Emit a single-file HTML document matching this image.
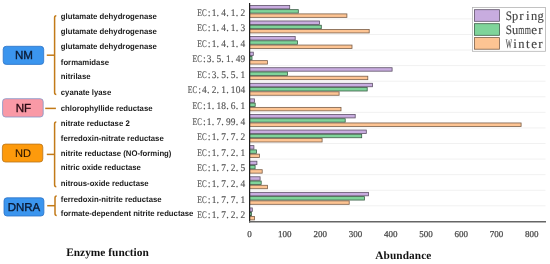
<!DOCTYPE html>
<html><head><meta charset="utf-8"><style>
html,body{margin:0;padding:0;background:#fff;}
body{width:550px;height:264px;overflow:hidden;position:relative;font-family:"Liberation Sans",sans-serif;}
svg{position:absolute;left:0;top:0;will-change:transform;}
text{text-rendering:geometricPrecision;}
</style></head><body>
<svg width="550" height="264" viewBox="0 0 550 264">
<line x1="250" y1="18.88" x2="545.5" y2="18.88" stroke="#f1f1f1" stroke-width="1"/>
<line x1="250" y1="34.46" x2="545.5" y2="34.46" stroke="#f1f1f1" stroke-width="1"/>
<line x1="250" y1="50.04" x2="545.5" y2="50.04" stroke="#f1f1f1" stroke-width="1"/>
<line x1="250" y1="65.62" x2="545.5" y2="65.62" stroke="#f1f1f1" stroke-width="1"/>
<line x1="250" y1="81.20" x2="545.5" y2="81.20" stroke="#f1f1f1" stroke-width="1"/>
<line x1="250" y1="96.78" x2="545.5" y2="96.78" stroke="#f1f1f1" stroke-width="1"/>
<line x1="250" y1="112.36" x2="545.5" y2="112.36" stroke="#f1f1f1" stroke-width="1"/>
<line x1="250" y1="127.94" x2="545.5" y2="127.94" stroke="#f1f1f1" stroke-width="1"/>
<line x1="250" y1="143.52" x2="545.5" y2="143.52" stroke="#f1f1f1" stroke-width="1"/>
<line x1="250" y1="159.10" x2="545.5" y2="159.10" stroke="#f1f1f1" stroke-width="1"/>
<line x1="250" y1="174.68" x2="545.5" y2="174.68" stroke="#f1f1f1" stroke-width="1"/>
<line x1="250" y1="190.26" x2="545.5" y2="190.26" stroke="#f1f1f1" stroke-width="1"/>
<line x1="250" y1="205.84" x2="545.5" y2="205.84" stroke="#f1f1f1" stroke-width="1"/>
<rect x="249.70" y="5.40" width="40.00" height="3.45" fill="#c8acdf" stroke="#5e5268" stroke-width="0.8"/>
<rect x="249.70" y="9.65" width="48.60" height="3.45" fill="#7fd49a" stroke="#3d5e48" stroke-width="0.8"/>
<rect x="249.70" y="13.90" width="97.20" height="3.45" fill="#fdc493" stroke="#7a5e48" stroke-width="0.8"/>
<rect x="249.70" y="20.98" width="69.80" height="3.45" fill="#c8acdf" stroke="#5e5268" stroke-width="0.8"/>
<rect x="249.70" y="25.23" width="71.60" height="3.45" fill="#7fd49a" stroke="#3d5e48" stroke-width="0.8"/>
<rect x="249.70" y="29.48" width="119.50" height="3.45" fill="#fdc493" stroke="#7a5e48" stroke-width="0.8"/>
<rect x="249.70" y="36.56" width="45.50" height="3.45" fill="#c8acdf" stroke="#5e5268" stroke-width="0.8"/>
<rect x="249.70" y="40.81" width="47.80" height="3.45" fill="#7fd49a" stroke="#3d5e48" stroke-width="0.8"/>
<rect x="249.70" y="45.06" width="102.30" height="3.45" fill="#fdc493" stroke="#7a5e48" stroke-width="0.8"/>
<rect x="249.70" y="52.14" width="3.60" height="3.45" fill="#c8acdf" stroke="#5e5268" stroke-width="0.8"/>
<rect x="249.70" y="56.39" width="2.30" height="3.45" fill="#7fd49a" stroke="#3d5e48" stroke-width="0.8"/>
<rect x="249.70" y="60.64" width="17.70" height="3.45" fill="#fdc493" stroke="#7a5e48" stroke-width="0.8"/>
<rect x="249.70" y="67.72" width="142.40" height="3.45" fill="#c8acdf" stroke="#5e5268" stroke-width="0.8"/>
<rect x="249.70" y="71.97" width="37.70" height="3.45" fill="#7fd49a" stroke="#3d5e48" stroke-width="0.8"/>
<rect x="249.70" y="76.22" width="118.10" height="3.45" fill="#fdc493" stroke="#7a5e48" stroke-width="0.8"/>
<rect x="249.70" y="83.30" width="122.70" height="3.45" fill="#c8acdf" stroke="#5e5268" stroke-width="0.8"/>
<rect x="249.70" y="87.55" width="117.50" height="3.45" fill="#7fd49a" stroke="#3d5e48" stroke-width="0.8"/>
<rect x="249.70" y="91.80" width="89.40" height="3.45" fill="#fdc493" stroke="#7a5e48" stroke-width="0.8"/>
<rect x="249.70" y="98.88" width="4.90" height="3.45" fill="#c8acdf" stroke="#5e5268" stroke-width="0.8"/>
<rect x="249.70" y="103.13" width="5.50" height="3.45" fill="#7fd49a" stroke="#3d5e48" stroke-width="0.8"/>
<rect x="249.70" y="107.38" width="91.30" height="3.45" fill="#fdc493" stroke="#7a5e48" stroke-width="0.8"/>
<rect x="249.70" y="114.46" width="105.50" height="3.45" fill="#c8acdf" stroke="#5e5268" stroke-width="0.8"/>
<rect x="249.70" y="118.71" width="95.50" height="3.45" fill="#7fd49a" stroke="#3d5e48" stroke-width="0.8"/>
<rect x="249.70" y="122.96" width="271.40" height="3.45" fill="#fdc493" stroke="#7a5e48" stroke-width="0.8"/>
<rect x="249.70" y="130.04" width="116.60" height="3.45" fill="#c8acdf" stroke="#5e5268" stroke-width="0.8"/>
<rect x="249.70" y="134.29" width="112.00" height="3.45" fill="#7fd49a" stroke="#3d5e48" stroke-width="0.8"/>
<rect x="249.70" y="138.54" width="72.40" height="3.45" fill="#fdc493" stroke="#7a5e48" stroke-width="0.8"/>
<rect x="249.70" y="145.62" width="4.20" height="3.45" fill="#c8acdf" stroke="#5e5268" stroke-width="0.8"/>
<rect x="249.70" y="149.87" width="6.80" height="3.45" fill="#7fd49a" stroke="#3d5e48" stroke-width="0.8"/>
<rect x="249.70" y="154.12" width="9.70" height="3.45" fill="#fdc493" stroke="#7a5e48" stroke-width="0.8"/>
<rect x="249.70" y="161.20" width="7.20" height="3.45" fill="#c8acdf" stroke="#5e5268" stroke-width="0.8"/>
<rect x="249.70" y="165.45" width="5.40" height="3.45" fill="#7fd49a" stroke="#3d5e48" stroke-width="0.8"/>
<rect x="249.70" y="169.70" width="12.50" height="3.45" fill="#fdc493" stroke="#7a5e48" stroke-width="0.8"/>
<rect x="249.70" y="176.78" width="10.40" height="3.45" fill="#c8acdf" stroke="#5e5268" stroke-width="0.8"/>
<rect x="249.70" y="181.03" width="11.50" height="3.45" fill="#7fd49a" stroke="#3d5e48" stroke-width="0.8"/>
<rect x="249.70" y="185.28" width="17.70" height="3.45" fill="#fdc493" stroke="#7a5e48" stroke-width="0.8"/>
<rect x="249.70" y="192.36" width="118.70" height="3.45" fill="#c8acdf" stroke="#5e5268" stroke-width="0.8"/>
<rect x="249.70" y="196.61" width="114.70" height="3.45" fill="#7fd49a" stroke="#3d5e48" stroke-width="0.8"/>
<rect x="249.70" y="200.86" width="99.50" height="3.45" fill="#fdc493" stroke="#7a5e48" stroke-width="0.8"/>
<rect x="249.70" y="207.94" width="2.60" height="3.45" fill="#c8acdf" stroke="#5e5268" stroke-width="0.8"/>
<rect x="249.70" y="212.19" width="1.80" height="3.45" fill="#7fd49a" stroke="#3d5e48" stroke-width="0.8"/>
<rect x="249.70" y="216.44" width="4.90" height="3.45" fill="#fdc493" stroke="#7a5e48" stroke-width="0.8"/>
<rect x="249" y="3" width="1.2" height="219.5" fill="#1e1e1e"/>
<rect x="249" y="221" width="297" height="1.5" fill="#666"/>
<g font-family="Liberation Serif" font-size="10.2" fill="#555" font-weight="normal" stroke="#555" stroke-width="0.15"><text x="0" y="0" transform="translate(199.60 15.57) scale(0.755 1)" text-anchor="middle">E</text><text x="0" y="0" transform="translate(204.40 15.57) scale(0.691 1)" text-anchor="middle">C</text><text x="209.20" y="15.57" text-anchor="middle">:</text><text x="0" y="0" transform="translate(214.00 15.57) scale(0.922 1)" text-anchor="middle">1</text><text x="217.84" y="15.57" text-anchor="middle">.</text><text x="0" y="0" transform="translate(223.60 15.57) scale(0.922 1)" text-anchor="middle">4</text><text x="227.44" y="15.57" text-anchor="middle">.</text><text x="0" y="0" transform="translate(233.20 15.57) scale(0.922 1)" text-anchor="middle">1</text><text x="237.04" y="15.57" text-anchor="middle">.</text><text x="0" y="0" transform="translate(242.80 15.57) scale(0.922 1)" text-anchor="middle">2</text></g>
<g font-family="Liberation Serif" font-size="10.2" fill="#555" font-weight="normal" stroke="#555" stroke-width="0.15"><text x="0" y="0" transform="translate(199.60 31.15) scale(0.755 1)" text-anchor="middle">E</text><text x="0" y="0" transform="translate(204.40 31.15) scale(0.691 1)" text-anchor="middle">C</text><text x="209.20" y="31.15" text-anchor="middle">:</text><text x="0" y="0" transform="translate(214.00 31.15) scale(0.922 1)" text-anchor="middle">1</text><text x="217.84" y="31.15" text-anchor="middle">.</text><text x="0" y="0" transform="translate(223.60 31.15) scale(0.922 1)" text-anchor="middle">4</text><text x="227.44" y="31.15" text-anchor="middle">.</text><text x="0" y="0" transform="translate(233.20 31.15) scale(0.922 1)" text-anchor="middle">1</text><text x="237.04" y="31.15" text-anchor="middle">.</text><text x="0" y="0" transform="translate(242.80 31.15) scale(0.922 1)" text-anchor="middle">3</text></g>
<g font-family="Liberation Serif" font-size="10.2" fill="#555" font-weight="normal" stroke="#555" stroke-width="0.15"><text x="0" y="0" transform="translate(199.60 46.73) scale(0.755 1)" text-anchor="middle">E</text><text x="0" y="0" transform="translate(204.40 46.73) scale(0.691 1)" text-anchor="middle">C</text><text x="209.20" y="46.73" text-anchor="middle">:</text><text x="0" y="0" transform="translate(214.00 46.73) scale(0.922 1)" text-anchor="middle">1</text><text x="217.84" y="46.73" text-anchor="middle">.</text><text x="0" y="0" transform="translate(223.60 46.73) scale(0.922 1)" text-anchor="middle">4</text><text x="227.44" y="46.73" text-anchor="middle">.</text><text x="0" y="0" transform="translate(233.20 46.73) scale(0.922 1)" text-anchor="middle">1</text><text x="237.04" y="46.73" text-anchor="middle">.</text><text x="0" y="0" transform="translate(242.80 46.73) scale(0.922 1)" text-anchor="middle">4</text></g>
<g font-family="Liberation Serif" font-size="10.2" fill="#555" font-weight="normal" stroke="#555" stroke-width="0.15"><text x="0" y="0" transform="translate(194.80 62.32) scale(0.755 1)" text-anchor="middle">E</text><text x="0" y="0" transform="translate(199.60 62.32) scale(0.691 1)" text-anchor="middle">C</text><text x="204.40" y="62.32" text-anchor="middle">:</text><text x="0" y="0" transform="translate(209.20 62.32) scale(0.922 1)" text-anchor="middle">3</text><text x="213.04" y="62.32" text-anchor="middle">.</text><text x="0" y="0" transform="translate(218.80 62.32) scale(0.922 1)" text-anchor="middle">5</text><text x="222.64" y="62.32" text-anchor="middle">.</text><text x="0" y="0" transform="translate(228.40 62.32) scale(0.922 1)" text-anchor="middle">1</text><text x="232.24" y="62.32" text-anchor="middle">.</text><text x="0" y="0" transform="translate(238.00 62.32) scale(0.922 1)" text-anchor="middle">4</text><text x="0" y="0" transform="translate(242.80 62.32) scale(0.922 1)" text-anchor="middle">9</text></g>
<g font-family="Liberation Serif" font-size="10.2" fill="#555" font-weight="normal" stroke="#555" stroke-width="0.15"><text x="0" y="0" transform="translate(199.60 77.89) scale(0.755 1)" text-anchor="middle">E</text><text x="0" y="0" transform="translate(204.40 77.89) scale(0.691 1)" text-anchor="middle">C</text><text x="209.20" y="77.89" text-anchor="middle">:</text><text x="0" y="0" transform="translate(214.00 77.89) scale(0.922 1)" text-anchor="middle">3</text><text x="217.84" y="77.89" text-anchor="middle">.</text><text x="0" y="0" transform="translate(223.60 77.89) scale(0.922 1)" text-anchor="middle">5</text><text x="227.44" y="77.89" text-anchor="middle">.</text><text x="0" y="0" transform="translate(233.20 77.89) scale(0.922 1)" text-anchor="middle">5</text><text x="237.04" y="77.89" text-anchor="middle">.</text><text x="0" y="0" transform="translate(242.80 77.89) scale(0.922 1)" text-anchor="middle">1</text></g>
<g font-family="Liberation Serif" font-size="10.2" fill="#555" font-weight="normal" stroke="#555" stroke-width="0.15"><text x="0" y="0" transform="translate(190.00 93.48) scale(0.755 1)" text-anchor="middle">E</text><text x="0" y="0" transform="translate(194.80 93.48) scale(0.691 1)" text-anchor="middle">C</text><text x="199.60" y="93.48" text-anchor="middle">:</text><text x="0" y="0" transform="translate(204.40 93.48) scale(0.922 1)" text-anchor="middle">4</text><text x="208.24" y="93.48" text-anchor="middle">.</text><text x="0" y="0" transform="translate(214.00 93.48) scale(0.922 1)" text-anchor="middle">2</text><text x="217.84" y="93.48" text-anchor="middle">.</text><text x="0" y="0" transform="translate(223.60 93.48) scale(0.922 1)" text-anchor="middle">1</text><text x="227.44" y="93.48" text-anchor="middle">.</text><text x="0" y="0" transform="translate(233.20 93.48) scale(0.922 1)" text-anchor="middle">1</text><text x="0" y="0" transform="translate(238.00 93.48) scale(0.922 1)" text-anchor="middle">0</text><text x="0" y="0" transform="translate(242.80 93.48) scale(0.922 1)" text-anchor="middle">4</text></g>
<g font-family="Liberation Serif" font-size="10.2" fill="#555" font-weight="normal" stroke="#555" stroke-width="0.15"><text x="0" y="0" transform="translate(194.80 109.06) scale(0.755 1)" text-anchor="middle">E</text><text x="0" y="0" transform="translate(199.60 109.06) scale(0.691 1)" text-anchor="middle">C</text><text x="204.40" y="109.06" text-anchor="middle">:</text><text x="0" y="0" transform="translate(209.20 109.06) scale(0.922 1)" text-anchor="middle">1</text><text x="213.04" y="109.06" text-anchor="middle">.</text><text x="0" y="0" transform="translate(218.80 109.06) scale(0.922 1)" text-anchor="middle">1</text><text x="0" y="0" transform="translate(223.60 109.06) scale(0.922 1)" text-anchor="middle">8</text><text x="227.44" y="109.06" text-anchor="middle">.</text><text x="0" y="0" transform="translate(233.20 109.06) scale(0.922 1)" text-anchor="middle">6</text><text x="237.04" y="109.06" text-anchor="middle">.</text><text x="0" y="0" transform="translate(242.80 109.06) scale(0.922 1)" text-anchor="middle">1</text></g>
<g font-family="Liberation Serif" font-size="10.2" fill="#555" font-weight="normal" stroke="#555" stroke-width="0.15"><text x="0" y="0" transform="translate(194.80 124.64) scale(0.755 1)" text-anchor="middle">E</text><text x="0" y="0" transform="translate(199.60 124.64) scale(0.691 1)" text-anchor="middle">C</text><text x="204.40" y="124.64" text-anchor="middle">:</text><text x="0" y="0" transform="translate(209.20 124.64) scale(0.922 1)" text-anchor="middle">1</text><text x="213.04" y="124.64" text-anchor="middle">.</text><text x="0" y="0" transform="translate(218.80 124.64) scale(0.922 1)" text-anchor="middle">7</text><text x="222.64" y="124.64" text-anchor="middle">.</text><text x="0" y="0" transform="translate(228.40 124.64) scale(0.922 1)" text-anchor="middle">9</text><text x="0" y="0" transform="translate(233.20 124.64) scale(0.922 1)" text-anchor="middle">9</text><text x="237.04" y="124.64" text-anchor="middle">.</text><text x="0" y="0" transform="translate(242.80 124.64) scale(0.922 1)" text-anchor="middle">4</text></g>
<g font-family="Liberation Serif" font-size="10.2" fill="#555" font-weight="normal" stroke="#555" stroke-width="0.15"><text x="0" y="0" transform="translate(199.60 140.21) scale(0.755 1)" text-anchor="middle">E</text><text x="0" y="0" transform="translate(204.40 140.21) scale(0.691 1)" text-anchor="middle">C</text><text x="209.20" y="140.21" text-anchor="middle">:</text><text x="0" y="0" transform="translate(214.00 140.21) scale(0.922 1)" text-anchor="middle">1</text><text x="217.84" y="140.21" text-anchor="middle">.</text><text x="0" y="0" transform="translate(223.60 140.21) scale(0.922 1)" text-anchor="middle">7</text><text x="227.44" y="140.21" text-anchor="middle">.</text><text x="0" y="0" transform="translate(233.20 140.21) scale(0.922 1)" text-anchor="middle">7</text><text x="237.04" y="140.21" text-anchor="middle">.</text><text x="0" y="0" transform="translate(242.80 140.21) scale(0.922 1)" text-anchor="middle">2</text></g>
<g font-family="Liberation Serif" font-size="10.2" fill="#555" font-weight="normal" stroke="#555" stroke-width="0.15"><text x="0" y="0" transform="translate(199.60 155.79) scale(0.755 1)" text-anchor="middle">E</text><text x="0" y="0" transform="translate(204.40 155.79) scale(0.691 1)" text-anchor="middle">C</text><text x="209.20" y="155.79" text-anchor="middle">:</text><text x="0" y="0" transform="translate(214.00 155.79) scale(0.922 1)" text-anchor="middle">1</text><text x="217.84" y="155.79" text-anchor="middle">.</text><text x="0" y="0" transform="translate(223.60 155.79) scale(0.922 1)" text-anchor="middle">7</text><text x="227.44" y="155.79" text-anchor="middle">.</text><text x="0" y="0" transform="translate(233.20 155.79) scale(0.922 1)" text-anchor="middle">2</text><text x="237.04" y="155.79" text-anchor="middle">.</text><text x="0" y="0" transform="translate(242.80 155.79) scale(0.922 1)" text-anchor="middle">1</text></g>
<g font-family="Liberation Serif" font-size="10.2" fill="#555" font-weight="normal" stroke="#555" stroke-width="0.15"><text x="0" y="0" transform="translate(199.60 171.38) scale(0.755 1)" text-anchor="middle">E</text><text x="0" y="0" transform="translate(204.40 171.38) scale(0.691 1)" text-anchor="middle">C</text><text x="209.20" y="171.38" text-anchor="middle">:</text><text x="0" y="0" transform="translate(214.00 171.38) scale(0.922 1)" text-anchor="middle">1</text><text x="217.84" y="171.38" text-anchor="middle">.</text><text x="0" y="0" transform="translate(223.60 171.38) scale(0.922 1)" text-anchor="middle">7</text><text x="227.44" y="171.38" text-anchor="middle">.</text><text x="0" y="0" transform="translate(233.20 171.38) scale(0.922 1)" text-anchor="middle">2</text><text x="237.04" y="171.38" text-anchor="middle">.</text><text x="0" y="0" transform="translate(242.80 171.38) scale(0.922 1)" text-anchor="middle">5</text></g>
<g font-family="Liberation Serif" font-size="10.2" fill="#555" font-weight="normal" stroke="#555" stroke-width="0.15"><text x="0" y="0" transform="translate(199.60 186.95) scale(0.755 1)" text-anchor="middle">E</text><text x="0" y="0" transform="translate(204.40 186.95) scale(0.691 1)" text-anchor="middle">C</text><text x="209.20" y="186.95" text-anchor="middle">:</text><text x="0" y="0" transform="translate(214.00 186.95) scale(0.922 1)" text-anchor="middle">1</text><text x="217.84" y="186.95" text-anchor="middle">.</text><text x="0" y="0" transform="translate(223.60 186.95) scale(0.922 1)" text-anchor="middle">7</text><text x="227.44" y="186.95" text-anchor="middle">.</text><text x="0" y="0" transform="translate(233.20 186.95) scale(0.922 1)" text-anchor="middle">2</text><text x="237.04" y="186.95" text-anchor="middle">.</text><text x="0" y="0" transform="translate(242.80 186.95) scale(0.922 1)" text-anchor="middle">4</text></g>
<g font-family="Liberation Serif" font-size="10.2" fill="#555" font-weight="normal" stroke="#555" stroke-width="0.15"><text x="0" y="0" transform="translate(199.60 202.53) scale(0.755 1)" text-anchor="middle">E</text><text x="0" y="0" transform="translate(204.40 202.53) scale(0.691 1)" text-anchor="middle">C</text><text x="209.20" y="202.53" text-anchor="middle">:</text><text x="0" y="0" transform="translate(214.00 202.53) scale(0.922 1)" text-anchor="middle">1</text><text x="217.84" y="202.53" text-anchor="middle">.</text><text x="0" y="0" transform="translate(223.60 202.53) scale(0.922 1)" text-anchor="middle">7</text><text x="227.44" y="202.53" text-anchor="middle">.</text><text x="0" y="0" transform="translate(233.20 202.53) scale(0.922 1)" text-anchor="middle">7</text><text x="237.04" y="202.53" text-anchor="middle">.</text><text x="0" y="0" transform="translate(242.80 202.53) scale(0.922 1)" text-anchor="middle">1</text></g>
<g font-family="Liberation Serif" font-size="10.2" fill="#555" font-weight="normal" stroke="#555" stroke-width="0.15"><text x="0" y="0" transform="translate(199.60 218.11) scale(0.755 1)" text-anchor="middle">E</text><text x="0" y="0" transform="translate(204.40 218.11) scale(0.691 1)" text-anchor="middle">C</text><text x="209.20" y="218.11" text-anchor="middle">:</text><text x="0" y="0" transform="translate(214.00 218.11) scale(0.922 1)" text-anchor="middle">1</text><text x="217.84" y="218.11" text-anchor="middle">.</text><text x="0" y="0" transform="translate(223.60 218.11) scale(0.922 1)" text-anchor="middle">7</text><text x="227.44" y="218.11" text-anchor="middle">.</text><text x="0" y="0" transform="translate(233.20 218.11) scale(0.922 1)" text-anchor="middle">2</text><text x="237.04" y="218.11" text-anchor="middle">.</text><text x="0" y="0" transform="translate(242.80 218.11) scale(0.922 1)" text-anchor="middle">2</text></g>
<text x="249.60" y="237.2" text-anchor="middle" font-family="Liberation Serif" font-size="9" fill="#4a4a4a" stroke="#4a4a4a" stroke-width="0.25">0</text>
<text x="284.87" y="237.2" text-anchor="middle" font-family="Liberation Serif" font-size="9" fill="#4a4a4a" stroke="#4a4a4a" stroke-width="0.25">100</text>
<text x="320.14" y="237.2" text-anchor="middle" font-family="Liberation Serif" font-size="9" fill="#4a4a4a" stroke="#4a4a4a" stroke-width="0.25">200</text>
<text x="355.41" y="237.2" text-anchor="middle" font-family="Liberation Serif" font-size="9" fill="#4a4a4a" stroke="#4a4a4a" stroke-width="0.25">300</text>
<text x="390.68" y="237.2" text-anchor="middle" font-family="Liberation Serif" font-size="9" fill="#4a4a4a" stroke="#4a4a4a" stroke-width="0.25">400</text>
<text x="425.95" y="237.2" text-anchor="middle" font-family="Liberation Serif" font-size="9" fill="#4a4a4a" stroke="#4a4a4a" stroke-width="0.25">500</text>
<text x="461.22" y="237.2" text-anchor="middle" font-family="Liberation Serif" font-size="9" fill="#4a4a4a" stroke="#4a4a4a" stroke-width="0.25">600</text>
<text x="496.49" y="237.2" text-anchor="middle" font-family="Liberation Serif" font-size="9" fill="#4a4a4a" stroke="#4a4a4a" stroke-width="0.25">700</text>
<text x="531.76" y="237.2" text-anchor="middle" font-family="Liberation Serif" font-size="9" fill="#4a4a4a" stroke="#4a4a4a" stroke-width="0.25">800</text>
<text x="375.3" y="258.6" font-family="Liberation Serif" font-weight="bold" font-size="11.3" letter-spacing="0.1" fill="#111">Abundance</text>
<text x="66.2" y="255.6" font-family="Liberation Serif" font-weight="bold" font-size="11.4" fill="#111">Enzyme function</text>
<rect x="472.5" y="7.5" width="73" height="43.8" fill="#fff" stroke="#b4b4b4" stroke-width="0.8"/>
<rect x="474.4" y="9.70" width="25" height="11.6" fill="#c8acdf" stroke="#5e5268" stroke-width="0.8"/>
<g font-family="Liberation Serif" font-size="13" fill="#444" font-weight="normal" stroke="#444" stroke-width="0.15"><text x="0" y="0" transform="translate(508.78 20.40) scale(0.861 1)" text-anchor="middle">S</text><text x="0" y="0" transform="translate(515.12 20.40) scale(0.957 1)" text-anchor="middle">p</text><text x="521.48" y="20.40" text-anchor="middle">r</text><text x="527.83" y="20.40" text-anchor="middle">i</text><text x="0" y="0" transform="translate(534.18 20.40) scale(0.957 1)" text-anchor="middle">n</text><text x="0" y="0" transform="translate(540.52 20.40) scale(0.957 1)" text-anchor="middle">g</text></g>
<rect x="474.4" y="23.70" width="25" height="11.6" fill="#7fd49a" stroke="#3d5e48" stroke-width="0.8"/>
<g font-family="Liberation Serif" font-size="13" fill="#444" font-weight="normal" stroke="#444" stroke-width="0.15"><text x="0" y="0" transform="translate(508.78 34.40) scale(0.861 1)" text-anchor="middle">S</text><text x="0" y="0" transform="translate(515.12 34.40) scale(0.957 1)" text-anchor="middle">u</text><text x="0" y="0" transform="translate(521.48 34.40) scale(0.615 1)" text-anchor="middle">m</text><text x="0" y="0" transform="translate(527.83 34.40) scale(0.615 1)" text-anchor="middle">m</text><text x="534.18" y="34.40" text-anchor="middle">e</text><text x="540.52" y="34.40" text-anchor="middle">r</text></g>
<rect x="474.4" y="37.60" width="25" height="11.6" fill="#fdc493" stroke="#7a5e48" stroke-width="0.8"/>
<g font-family="Liberation Serif" font-size="13" fill="#444" font-weight="normal" stroke="#444" stroke-width="0.15"><text x="0" y="0" transform="translate(508.78 48.30) scale(0.507 1)" text-anchor="middle">W</text><text x="515.12" y="48.30" text-anchor="middle">i</text><text x="0" y="0" transform="translate(521.48 48.30) scale(0.957 1)" text-anchor="middle">n</text><text x="527.83" y="48.30" text-anchor="middle">t</text><text x="534.18" y="48.30" text-anchor="middle">e</text><text x="540.52" y="48.30" text-anchor="middle">r</text></g>
<text x="60.8" y="19.30" textLength="96.03" lengthAdjust="spacingAndGlyphs" font-family="Liberation Sans" font-weight="bold" font-size="8.1" fill="#1a1a1a">glutamate dehydrogenase</text>
<text x="60.8" y="33.80" textLength="96.03" lengthAdjust="spacingAndGlyphs" font-family="Liberation Sans" font-weight="bold" font-size="8.1" fill="#1a1a1a">glutamate dehydrogenase</text>
<text x="60.8" y="48.60" textLength="96.03" lengthAdjust="spacingAndGlyphs" font-family="Liberation Sans" font-weight="bold" font-size="8.1" fill="#1a1a1a">glutamate dehydrogenase</text>
<text x="60.8" y="64.60" textLength="48.24" lengthAdjust="spacingAndGlyphs" font-family="Liberation Sans" font-weight="bold" font-size="8.1" fill="#1a1a1a">formamidase</text>
<text x="60.8" y="78.80" textLength="29.72" lengthAdjust="spacingAndGlyphs" font-family="Liberation Sans" font-weight="bold" font-size="8.1" fill="#1a1a1a">nitrilase</text>
<text x="60.8" y="94.70" textLength="50.41" lengthAdjust="spacingAndGlyphs" font-family="Liberation Sans" font-weight="bold" font-size="8.1" fill="#1a1a1a">cyanate lyase</text>
<text x="60.8" y="111.40" textLength="91.72" lengthAdjust="spacingAndGlyphs" font-family="Liberation Sans" font-weight="bold" font-size="8.1" fill="#1a1a1a">chlorophyllide reductase</text>
<text x="60.8" y="125.60" textLength="68.91" lengthAdjust="spacingAndGlyphs" font-family="Liberation Sans" font-weight="bold" font-size="8.1" fill="#1a1a1a">nitrate reductase 2</text>
<text x="60.8" y="140.80" textLength="102.93" lengthAdjust="spacingAndGlyphs" font-family="Liberation Sans" font-weight="bold" font-size="8.1" fill="#1a1a1a">ferredoxin-nitrate reductase</text>
<text x="60.8" y="156.00" textLength="110.65" lengthAdjust="spacingAndGlyphs" font-family="Liberation Sans" font-weight="bold" font-size="8.1" fill="#1a1a1a">nitrite reductase (NO-forming)</text>
<text x="60.8" y="170.20" textLength="80.10" lengthAdjust="spacingAndGlyphs" font-family="Liberation Sans" font-weight="bold" font-size="8.1" fill="#1a1a1a">nitric oxide reductase</text>
<text x="60.8" y="185.70" textLength="87.85" lengthAdjust="spacingAndGlyphs" font-family="Liberation Sans" font-weight="bold" font-size="8.1" fill="#1a1a1a">nitrous-oxide reductase</text>
<text x="60.8" y="202.00" textLength="100.77" lengthAdjust="spacingAndGlyphs" font-family="Liberation Sans" font-weight="bold" font-size="8.1" fill="#1a1a1a">ferredoxin-nitrite reductase</text>
<text x="60.8" y="215.90" textLength="132.63" lengthAdjust="spacingAndGlyphs" font-family="Liberation Sans" font-weight="bold" font-size="8.1" fill="#1a1a1a">formate-dependent nitrite reductase</text>
<rect x="3.20" y="46.30" width="40.50" height="18.10" rx="3" fill="#3b95ee" stroke="#2b72c6" stroke-width="0.8"/>
<text x="23.95" y="59.35" text-anchor="middle" font-family="Liberation Sans" font-weight="normal" font-size="11.6" fill="#0b1a33" stroke="#0b1a33" stroke-width="0.35">NM</text>
<rect x="2.60" y="98.70" width="40.60" height="18.30" rx="3" fill="#f999a6" stroke="#8196c8" stroke-width="0.8"/>
<text x="23.40" y="111.85" text-anchor="middle" font-family="Liberation Sans" font-weight="normal" font-size="11.6" fill="#2a0a14" stroke="#2a0a14" stroke-width="0.35">NF</text>
<rect x="2.40" y="144.10" width="40.40" height="17.90" rx="3" fill="#fd9a0c" stroke="#b8741a" stroke-width="0.8"/>
<text x="23.10" y="157.05" text-anchor="middle" font-family="Liberation Sans" font-weight="normal" font-size="11.1" fill="#2a1400" stroke="#2a1400" stroke-width="0.12">ND</text>
<rect x="4.00" y="197.80" width="39.90" height="18.20" rx="3" fill="#3b95ee" stroke="#2b72c6" stroke-width="0.8"/>
<text x="23.95" y="210.90" text-anchor="middle" font-family="Liberation Sans" font-weight="normal" font-size="11.5" fill="#0b1a33" stroke="#0b1a33" stroke-width="0.35">DNRA</text>
<path d="M56.30 15.80 Q54.60 15.80 54.60 17.80 L54.60 92.60 Q54.60 94.60 56.30 94.60" fill="none" stroke="#c27a18" stroke-width="1.5"/>
<line x1="46.8" y1="55.2" x2="54.6" y2="55.2" stroke="#c27a18" stroke-width="1.5"/>
<line x1="45.2" y1="108.4" x2="55.9" y2="108.4" stroke="#c27a18" stroke-width="1.5"/>
<path d="M56.30 121.90 Q54.60 121.90 54.60 123.90 L54.60 184.80 Q54.60 186.80 56.30 186.80" fill="none" stroke="#c27a18" stroke-width="1.5"/>
<line x1="46.8" y1="154.4" x2="54.6" y2="154.4" stroke="#c27a18" stroke-width="1.5"/>
<path d="M56.70 195.90 Q55.00 195.90 55.00 197.90 L55.00 213.50 Q55.00 215.50 56.70 215.50" fill="none" stroke="#c27a18" stroke-width="1.5"/>
<line x1="47.2" y1="205.7" x2="55.0" y2="205.7" stroke="#c27a18" stroke-width="1.5"/>
</svg>
</body></html>
